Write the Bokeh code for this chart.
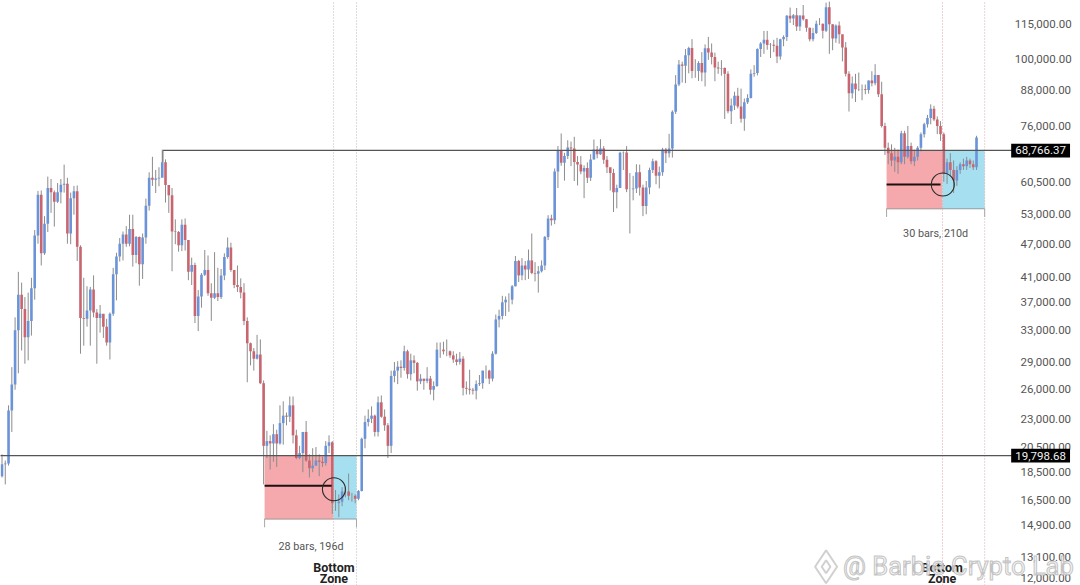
from bokeh.plotting import figure
from bokeh.embed import file_html
from bokeh.resources import INLINE
from bokeh.models import NumeralTickFormatter, FixedTicker, Range1d, LogAxis
from bokeh.core.properties import value

closes = [
19100,19170,23800,26450,33000,38150,36000,32100,34300,39200,
48600,57400,45200,50970,59000,58000,55800,58000,59800,60000,
49000,56600,58200,46400,34700,34600,35800,39000,35500,34700,
35300,33500,31400,35300,41500,44600,47000,48800,47000,49900,
44900,48300,43200,48200,54900,61500,61000,61300,61500,65500,
59700,57300,49400,49300,46700,50800,47700,41900,43100,35000,
37900,41400,42200,38400,37700,38400,37800,41300,44500,46300,
42200,39700,39400,38500,34300,31300,30300,29400,29900,26600,
20600,21000,20800,21600,20800,22600,23300,23200,24300,21500,
19600,20000,21800,19400,18800,19000,19400,19300,19200,20600,
20900,16300,16300,16400,17100,17100,16800,16800,16600,17130,
21200,22700,23000,23300,21800,24600,23200,22400,20600,27400,
28000,28450,28300,30300,27600,29200,28900,26800,27100,26850,
27100,25900,26300,30500,30500,30300,30300,29800,29300,29000,
29400,26100,26000,25900,25800,26500,26600,28000,28000,27100,
30000,34500,35000,37000,37400,37400,39500,43800,41300,43000,
42300,43900,41700,41600,42000,43000,48300,52100,51700,63100,
68900,65400,67200,69600,69300,65600,64900,63100,64000,61500,
66300,69000,67700,69300,66200,64200,62700,58000,59000,68100,
68200,58700,58700,58900,62900,59100,54800,59100,63500,65800,
62000,62900,69000,68000,69300,80500,90000,97700,97200,101400,
104500,95100,95100,98300,94500,104400,102600,100700,96500,96100,
96300,94000,80700,82600,86000,82300,78300,83700,85200,94000,
94300,104000,106400,108000,105700,105800,105400,100900,108300,109200,
119100,117800,119400,114000,119300,117400,113500,108200,111100,115300,
115300,112100,123400,115100,108600,114500,110500,104700,94000,86800,
90400,88300,88200,88300,88000,91500,90500,93600,86500,76000,
69500,68000,66000,67000,65500,73800,67000,70000,65800,67000,
69500,73500,76500,78500,81500,78000,76000,73500,62500,65500,
63500,60800,63500,65000,64500,66000,65000,64200,72500]

highs = [
19900,19400,24300,28400,34800,41900,40100,37800,38500,40900,
49700,58300,58400,52600,61800,61200,58400,60200,61200,64900,
61500,57900,59500,59600,46700,40900,39500,39400,41300,36000,
36600,35100,34600,35500,42600,45300,48100,49400,50500,52900,
52900,48500,48400,49000,56500,62900,67000,63500,64200,69000,
66300,59400,59000,51900,49500,51900,52100,47500,44400,43500,
38900,41700,45800,44800,40000,45400,42600,42400,45200,48200,
47200,41600,43000,40800,40000,34800,31400,30700,32400,31800,
26900,21900,21500,22500,22000,24300,24700,23600,25200,25200,
22000,20600,21800,22800,19900,20400,20500,19900,19700,21000,
21500,21000,17200,16900,17400,17400,18400,17000,16900,17200,
21300,23300,23900,24200,23400,25200,25300,23900,22600,28000,
29000,29100,29200,31000,30500,30000,29800,29000,27600,27000,
28400,27400,26800,31400,31400,31500,31800,30400,30300,30000,
30200,29700,26800,28100,26100,26900,27500,28000,28600,28100,
30300,35200,35900,38000,37900,38400,39700,44700,44000,44300,
43800,45900,49000,43600,42900,43900,48500,52800,52900,63900,
70000,73700,68100,71700,71300,72700,67200,67200,64700,65500,
67700,71900,70000,72000,70000,67200,64000,63800,59800,68400,
68500,70000,62700,62000,65000,64900,59800,60700,64100,66500,
66100,64400,69500,69500,73600,81000,93500,99500,98800,104000,
105000,108300,99800,99000,102700,106000,109300,106400,102500,98800,
99400,96500,95000,85000,87400,88800,88500,85000,86500,95700,
97400,104300,107000,112000,112000,106600,108000,108900,108500,110000,
119500,123200,120000,123000,119300,124500,117600,113500,113400,116800,
118000,115400,125700,126200,115000,115000,116400,110000,107000,95000,
93000,94000,94500,90000,90000,91500,95000,97800,93500,91000,
77000,71000,70500,69500,69000,74500,74500,76000,71000,69000,
70000,74000,77000,79500,83000,82500,79000,77500,74000,66500,
68000,66000,64500,65500,66500,67000,66500,66000,73000]

lows = [
18100,17600,19000,21800,25900,27700,30400,28800,29200,32300,
37400,47000,43000,44900,49300,53300,50400,55500,55400,57900,
47000,46900,52900,43800,30000,31000,33500,31000,34800,28800,
32700,32000,31000,29300,35000,37300,43700,43900,46400,46500,
42800,43400,39600,40700,47000,53800,59500,57800,59400,62300,
55600,53300,42000,46900,45500,45600,45700,40500,39700,34000,
32900,36200,41200,38000,34300,37500,37200,37500,40500,44200,
41900,39200,38600,37600,33700,26700,28600,28000,29300,26500,
17600,19600,18700,19300,18900,20700,20700,22400,22700,20800,
19500,19500,18500,19300,18100,18500,19000,18200,18900,19000,
20000,15600,15800,15400,16100,16700,16500,16400,16300,16500,
17100,20400,22300,22600,21400,21400,23100,21900,19600,20000,
26700,26500,27200,28000,27100,26900,27700,25800,26500,25900,
26600,25400,24800,26200,29500,29900,29700,29500,28900,28600,
28700,25300,25400,25400,25400,24900,26300,26000,27100,26500,
26800,29900,33400,34500,35000,35600,36700,39500,40200,40500,
40500,40700,41500,40300,38500,41800,42200,47700,50600,50900,
59000,64600,60800,66400,64500,60700,59600,62400,56600,60200,
60700,66300,66600,67500,65100,62700,58400,53500,54300,59000,
63500,58000,49000,56100,57800,57200,52600,53000,57500,62700,
59900,58900,62000,65300,66800,66800,79800,89400,90700,90500,
94200,92300,92500,91300,91200,89300,99500,97700,91200,94000,
93300,78200,80000,76600,81100,81600,77000,74500,83100,85000,
92900,93400,100700,102000,103700,100300,102700,98200,99600,105200,
107500,115700,114700,112000,112000,116800,111600,107300,107300,110600,
114700,108600,111500,102000,103500,106700,106300,98900,93000,80600,
85000,83800,87600,84400,86500,86700,89300,89700,85500,75500,
67500,65000,64500,63000,62500,65000,65000,66500,65000,64500,
66000,68500,72500,75500,76500,77500,73500,71500,60500,60000,
62000,57800,59500,62500,63500,63500,64000,63500,63500]

first_open = 18200
opens = [first_open] + closes[:-1]
idx = list(range(len(closes)))

ticks_six_digit = [115000,100000]
ticks_five_digit = [88000,76000,60500,53000,47000,41000,37000,33000,29000,26000,23000,20500,18500,16500,14900,13100,12000]
level_high = 68766.37
level_low = 19798.68

BLUE, RED, WICK = "#6a93d8", "#c8656f", "#8c8c8c"
PINK, CYAN = "#f5a9ad", "#a6e0f0"
FONT = "Roboto"
Y0, Y1 = 11650, 126800

p = figure(width=1080, height=585, output_backend="svg", toolbar_location=None,
           y_axis_type="log", y_axis_location="right", x_axis_location=None,
           x_range=Range1d(-0.46, 329.8), y_range=Range1d(Y0, Y1),
           min_border_left=0, min_border_top=0, min_border_bottom=0, min_border_right=0,
           margin=(0, 0, 0, 0))
p.outline_line_color = None
p.grid.visible = False

def style_axis(ax, ticks, loc):
    ax.ticker = FixedTicker(ticks=ticks)
    ax.formatter = NumeralTickFormatter(format="0,0.00")
    ax.axis_line_color = None
    ax.major_tick_line_color = None
    ax.minor_tick_line_color = None
    ax.major_label_standoff = 4
    ax.major_label_text_font = FONT
    ax.major_label_text_font_size = "11.5px"
    ax.major_label_text_color = "#555555"
    ax.fixed_location = loc

style_axis(p.yaxis[0], ticks_five_digit, 308.4)
axis_wide = LogAxis()
style_axis(axis_wide, ticks_six_digit, 306.6)
p.add_layout(axis_wide, "right")

zones = [(80.3, 101.4, 108.4, 15230, 17500, 17250, level_low),
         (270.5, 287.6, 300.5, 54040, 59850, 59850, level_high)]
for a, b, c, low, mid, ring, top in zones:
    p.quad(left=[a], right=[b], bottom=[low], top=[top], fill_color=PINK, line_color=None)
    p.quad(left=[b], right=[c], bottom=[low], top=[top], fill_color=CYAN, line_color=None)

for i, (a, b, c, low, mid, ring, top) in enumerate(zones):
    col = "#b9b9b9" if i == 0 else "#d9a5ab"
    for xv in (b, c):
        p.segment(x0=[xv], x1=[xv], y0=[Y0], y1=[Y1], line_color=col, line_width=1, line_dash="1 2")

lo = [min(a, b) for a, b in zip(opens, closes)]
hi = [max(a, b) for a, b in zip(opens, closes)]
col = [BLUE if c >= o else RED for o, c in zip(opens, closes)]
p.segment(x0=idx, x1=idx, y0=lows, y1=highs, line_color=WICK, line_width=1)
p.vbar(x=idx, width=0.8, bottom=lo, top=hi, fill_color=col, line_color=None)

# level lines
p.segment(x0=[49.2], x1=[312], y0=[level_high], y1=[level_high], line_color="#555555", line_width=1.2)
p.segment(x0=[49.2], x1=[49.2], y0=[level_high], y1=[65500], line_color="#777777", line_width=1.2)
p.segment(x0=[-1], x1=[312], y0=[level_low], y1=[level_low], line_color="#555555", line_width=1.2)

for a, b, c, low, mid, ring, top in zones:
    p.segment(x0=[a], x1=[b - 0.6], y0=[mid], y1=[mid], line_color="#1c1010", line_width=2)
    p.scatter(x=[b + 0.1], y=[ring], marker="circle", size=23, fill_color=None,
              line_color="#2b2b2b", line_width=1.1)
    p.segment(x0=[a], x1=[c], y0=[low * 1.004], y1=[low * 1.004], line_color="#a8a8a8", line_width=1)
    p.segment(x0=[a, c], x1=[a, c], y0=[low * 1.004, low * 1.004], y1=[low * 0.97, low * 0.97],
              line_color="#a8a8a8", line_width=1)

def txt(x, y, s, size, color, style="normal", align="center", level="glyph"):
    return p.text(x=[x], y=[y], text=[s], text_font=value(FONT), text_font_size=size, text_color=color,
                  text_font_style=style, text_align=align, text_baseline="middle", level=level)

txt(94.5, 13670, "28 bars, 196d", "10.8px", "#555555")
txt(285.5, 49000, "30 bars, 210d", "10.8px", "#555555")
txt(101.5, 12540, "Bottom", "12.5px", "#222222", "bold")
txt(101.5, 11985, "Zone", "12.5px", "#222222", "bold")
txt(287.5, 12540, "Bottom", "12.5px", "#222222", "bold")
txt(287.5, 11985, "Zone", "12.5px", "#222222", "bold")

# price tags at the right edge
for price, s in ((level_high, "68,766.37"), (level_low, "19,798.68")):
    p.quad(left=[308.6], right=[326.6], bottom=[price * 0.972], top=[price * 1.028],
           fill_color="#000000", line_color=None, level="annotation")
    txt(317.6, price, s, "11.5px", "#f0f0f0", level="overlay")

# watermark
p.scatter(x=[252], y=[12580], marker="diamond", size=33, fill_color=None, line_color="#d0d0d0", line_width=2, level="overlay")
p.scatter(x=[252], y=[12580], marker="diamond", size=13, fill_color=None, line_color="#d0d0d0", line_width=2, level="overlay")
p.text(x=[257.2], y=[12600], text=["@ Barbie Crypto Lab"], text_font=value(FONT), text_font_size="25.5px",
       text_color="#f2f2f2", text_alpha=0.8, text_outline_color="#b5b5b5", text_align="left",
       text_baseline="middle", level="overlay")

open("out.html", "w").write(file_html(p, INLINE))
